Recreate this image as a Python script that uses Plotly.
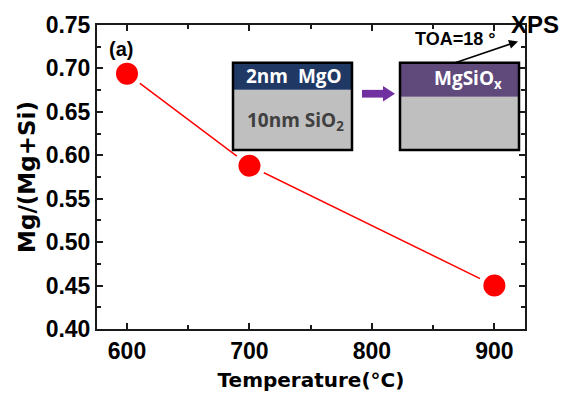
import plotly.graph_objects as go

temps = [600, 700, 900]
ratio = [0.694, 0.588, 0.450]
x_ticks = [600, 700, 800, 900]
y_ticks = [0.40, 0.45, 0.50, 0.55, 0.60, 0.65, 0.70, 0.75]

W, H = 561, 401
L, R, T, B = 97, 525, 15, 329
PW, PH = R - L, B - T

def px(x):
    return (x - L) / PW

def py(y):
    return (B - y) / PH

FONT = "DejaVu Sans"
TFONT = "Liberation Sans"
BOXFONT = "Open Sans"
NB = "\u00a0"

fig = go.Figure()
fig.add_trace(go.Scatter(
    x=temps, y=ratio, mode="lines+markers",
    line=dict(color="#ff0000", width=1.5),
    marker=dict(color="#ff0000", size=27, line=dict(color="white", width=5)),
    showlegend=False, cliponaxis=False,
))

shapes = []
# box 1
shapes.append(dict(type="rect", xref="paper", yref="paper", x0=px(233), x1=px(352), y0=py(144), y1=py(82),
                   fillcolor="#bfbfbf", line=dict(width=0)))
shapes.append(dict(type="rect", xref="paper", yref="paper", x0=px(233), x1=px(352), y0=py(82), y1=py(54),
                   fillcolor="#1f3864", line=dict(width=0)))
shapes.append(dict(type="rect", xref="paper", yref="paper", x0=px(233), x1=px(352), y0=py(144), y1=py(54),
                   fillcolor="rgba(0,0,0,0)", line=dict(color="black", width=2.5)))
# box 2
shapes.append(dict(type="rect", xref="paper", yref="paper", x0=px(400), x1=px(519), y0=py(144), y1=py(89),
                   fillcolor="#bfbfbf", line=dict(width=0)))
shapes.append(dict(type="rect", xref="paper", yref="paper", x0=px(400), x1=px(519), y0=py(89), y1=py(54),
                   fillcolor="#604a7b", line=dict(width=0)))
shapes.append(dict(type="rect", xref="paper", yref="paper", x0=px(400), x1=px(519), y0=py(144), y1=py(54),
                   fillcolor="rgba(0,0,0,0)", line=dict(color="black", width=2.5)))
# purple arrow
shapes.append(dict(type="rect", xref="paper", yref="paper", x0=px(362), x1=px(384), y0=py(90), y1=py(82),
                   fillcolor="#7030a0", line=dict(width=0)))
shapes.append(dict(type="path", xref="paper", yref="paper",
                   path=f"M {px(383)} {py(78)} L {px(395)} {py(86)} L {px(383)} {py(94)} Z",
                   fillcolor="#7030a0", line=dict(width=0)))

def ann(x, y, text, size, color="black", family=TFONT, **kw):
    d = dict(x=px(x), y=py(y), xref="paper", yref="paper", text=text, showarrow=False,
             xanchor="center", yanchor="middle",
             font=dict(family=family, size=size, color=color, weight="bold"))
    d.update(kw)
    return d

annotations = [
    ann(294, 68, f"2nm{NB}{NB}MgO", 19, "white", BOXFONT),
    ann(295, 114, f"10nm{NB}SiO<sub>2</sub>", 19, "#404040", BOXFONT),
    ann(468, 71, "MgSiO<sub>x</sub>", 19, "white", BOXFONT),
    dict(x=px(518), y=py(32), ax=453 - 518, ay=54 - 32, xref="paper", yref="paper", axref="pixel", ayref="pixel",
         text="", showarrow=True, arrowhead=2, arrowsize=1.2, arrowwidth=1.5, arrowcolor="black"),
    ann(455, 29, f"TOA=18{NB}°", 18),
    ann(535, 14, "XPS", 24),
    ann(121, 40, "(a)", 20),
]

axis_common = dict(
    showline=True, linecolor="#1a1a1a", linewidth=2, mirror="ticks",
    ticks="inside", ticklen=6, tickwidth=1.5, tickcolor="#1a1a1a",
    showgrid=False, zeroline=False,
    tickfont=dict(family=TFONT, size=23, color="black", weight="bold"),
)

fig.update_layout(
    width=W, height=H, margin=dict(l=L, r=W - R, t=T, b=H - B),
    paper_bgcolor="white", plot_bgcolor="white",
    shapes=shapes, annotations=annotations,
    xaxis=dict(range=[575.5, 925], tickvals=x_ticks, ticktext=[str(v) for v in x_ticks],
               minor=dict(dtick=50, ticks="inside", ticklen=4, tickcolor="#1a1a1a", tickwidth=1.5),
               title=dict(text="Temperature(°C)", font=dict(family=FONT, size=20, color="black", weight="bold"), standoff=10),
               **axis_common),
    yaxis=dict(range=[0.40, 0.75], tickvals=y_ticks, ticktext=[f"{v:.2f}" for v in y_ticks],
               minor=dict(dtick=0.025, ticks="inside", ticklen=4, tickcolor="#1a1a1a", tickwidth=1.5),
               title=dict(text="Mg/(Mg+Si)", font=dict(family=FONT, size=23, color="black", weight="bold"), standoff=4),
               **axis_common),
)

fig.write_html("out.html")
